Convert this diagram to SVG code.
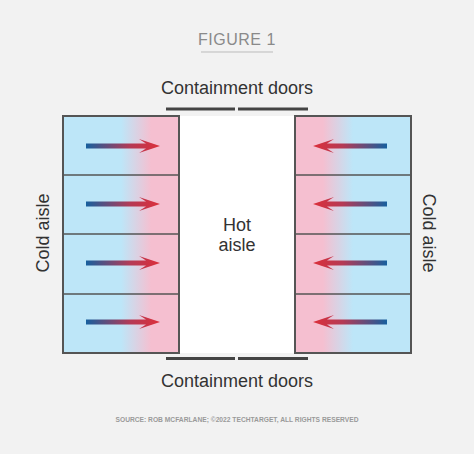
<svg xmlns="http://www.w3.org/2000/svg" width="474" height="454" viewBox="0 0 474 454">
<defs>
<linearGradient id="bgL" x1="63" y1="0" x2="179" y2="0" gradientUnits="userSpaceOnUse">
<stop offset="0" stop-color="#bde6f8"/><stop offset="0.5" stop-color="#bde6f8"/><stop offset="0.76" stop-color="#f5bfd0"/><stop offset="1" stop-color="#f5bfd0"/>
</linearGradient>
<linearGradient id="bgR" x1="411" y1="0" x2="295" y2="0" gradientUnits="userSpaceOnUse">
<stop offset="0" stop-color="#bde6f8"/><stop offset="0.5" stop-color="#bde6f8"/><stop offset="0.76" stop-color="#f5bfd0"/><stop offset="1" stop-color="#f5bfd0"/>
</linearGradient>
<linearGradient id="arL" x1="86" y1="0" x2="160" y2="0" gradientUnits="userSpaceOnUse">
<stop offset="0" stop-color="#175f9e"/><stop offset="0.6" stop-color="#b53a55"/><stop offset="1" stop-color="#dc2f3a"/>
</linearGradient>
<linearGradient id="arR" x1="387" y1="0" x2="313" y2="0" gradientUnits="userSpaceOnUse">
<stop offset="0" stop-color="#175f9e"/><stop offset="0.6" stop-color="#b53a55"/><stop offset="1" stop-color="#dc2f3a"/>
</linearGradient>
</defs>
<style>
.lbl{font-family:"Liberation Sans",Arial,sans-serif;font-size:18px;fill:#333;text-anchor:middle}
.rack{stroke:#555;stroke-width:2}
.div{stroke:#555;stroke-width:1.5}
.door{stroke:#444;stroke-width:3}
</style>
<rect width="474" height="454" fill="#f2f2f2"/>
<text x="237" y="45" font-family="Liberation Sans,Arial,sans-serif" font-size="16" fill="#8a8a8a" text-anchor="middle" letter-spacing="0.5">FIGURE 1</text>
<line x1="201" y1="52" x2="273" y2="52" stroke="#bbb" stroke-width="1"/>

<g id="hot-aisle">
<rect x="179" y="116" width="116" height="237" fill="#fff"/>
<text class="lbl" x="237" y="231">Hot</text>
<text class="lbl" x="237" y="251">aisle</text>
</g>

<g id="left-rack">
<rect class="rack" x="63" y="116" width="116" height="237" fill="url(#bgL)"/>
<line class="div" x1="63" y1="175" x2="179" y2="175"/>
<line class="div" x1="63" y1="234" x2="179" y2="234"/>
<line class="div" x1="63" y1="294" x2="179" y2="294"/>
</g>

<g id="right-rack">
<rect class="rack" x="295" y="116" width="116" height="237" fill="url(#bgR)"/>
<line class="div" x1="295" y1="175" x2="411" y2="175"/>
<line class="div" x1="295" y1="234" x2="411" y2="234"/>
<line class="div" x1="295" y1="294" x2="411" y2="294"/>
</g>

<g id="connectors">
<g fill="url(#arL)">
<path d="M86 143.5 H146 L139 139 L160 146 L139 153 L146 148.5 H86 Z"/>
<path d="M86 201.5 H146 L139 197 L160 204 L139 211 L146 206.5 H86 Z"/>
<path d="M86 260.5 H146 L139 256 L160 263 L139 270 L146 265.5 H86 Z"/>
<path d="M86 319.5 H146 L139 315 L160 322 L139 329 L146 324.5 H86 Z"/>
</g>
<g fill="url(#arR)">
<path d="M387 143.5 H327 L334 139 L313 146 L334 153 L327 148.5 H387 Z"/>
<path d="M387 201.5 H327 L334 197 L313 204 L334 211 L327 206.5 H387 Z"/>
<path d="M387 260.5 H327 L334 256 L313 263 L334 270 L327 265.5 H387 Z"/>
<path d="M387 319.5 H327 L334 315 L313 322 L334 329 L327 324.5 H387 Z"/>
</g>
</g>

<g id="doors-top">
<line class="door" x1="166" y1="109" x2="235" y2="109"/>
<line class="door" x1="238" y1="109" x2="308" y2="109"/>
<text class="lbl" x="237" y="94">Containment doors</text>
</g>
<g id="doors-bottom">
<line class="door" x1="166" y1="358.5" x2="235" y2="358.5"/>
<line class="door" x1="238" y1="358.5" x2="308" y2="358.5"/>
<text class="lbl" x="237" y="387">Containment doors</text>
</g>

<g id="cold-left">
<text class="lbl" transform="translate(49 233) rotate(-90)">Cold aisle</text>
</g>
<g id="cold-right">
<text class="lbl" transform="translate(423 233) rotate(90)">Cold aisle</text>
</g>

<text x="237" y="422" font-family="Liberation Sans,Arial,sans-serif" font-size="7" font-weight="bold" fill="#9a9a9a" text-anchor="middle" textLength="243" lengthAdjust="spacingAndGlyphs">SOURCE: ROB MCFARLANE; ©2022 TECHTARGET, ALL RIGHTS RESERVED</text>
</svg>
